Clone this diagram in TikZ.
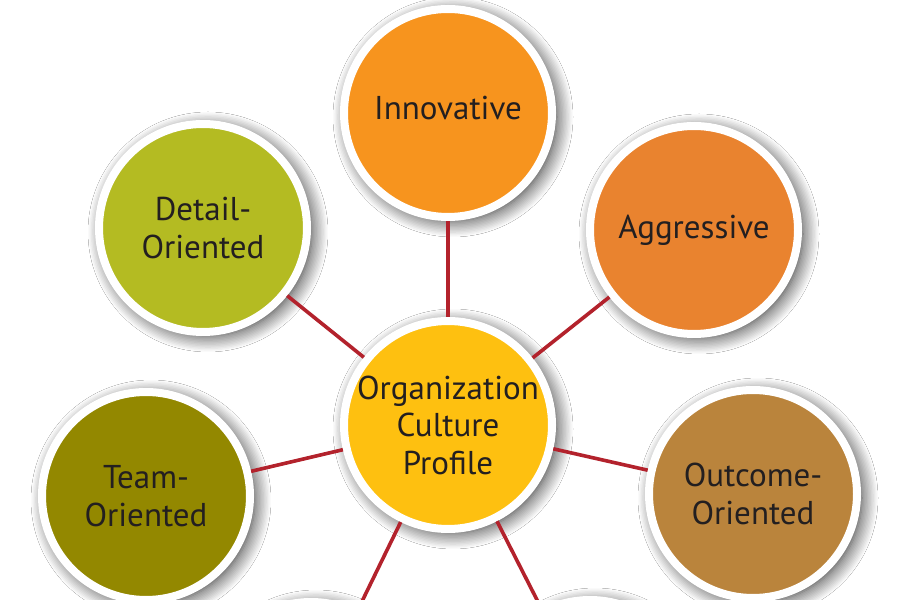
\documentclass[tikz,border=0pt]{standalone}
\usepackage{fontspec}
\setmainfont{PT Sans}
\usepackage{tikz}
\usetikzlibrary{positioning,shadows.blur}
\definecolor{hub1}{HTML}{FEC010}
\definecolor{orange1}{HTML}{F7941E}
\definecolor{orange2}{HTML}{E9832F}
\definecolor{lime1}{HTML}{B4BB22}
\definecolor{olive1}{HTML}{938800}
\definecolor{brown1}{HTML}{BA843C}
\definecolor{spoke1}{HTML}{B3222C}
\definecolor{ink1}{HTML}{231F20}

\begin{document}
\begin{tikzpicture}[x=1pt, y=1pt,
    trait/.style={circle, draw=white, line width=8pt,
                  minimum size=208pt, inner sep=0pt,
                  font=\fontsize{33}{37.5}\selectfont,
                  text=ink1, align=center,
                  blur shadow={shadow blur steps=12, shadow blur radius=16pt,
                  shadow xshift=5pt, shadow yshift=-4pt, shadow opacity=85}},
    spoke/.style={draw=spoke1, line width=3.6pt},
]
\fill[white] (0,0) rectangle (900,600);
\useasboundingbox (0,0) rectangle (900,600);

\node[trait, fill=orange1] (inno) at (448,487) {\raisebox{10pt}{Innovative}};
\node[trait, fill=orange2] (aggr) at (694,370) {Aggressive};
\node[trait, fill=lime1] (detail) at (203,372) {Detail-\\Oriented};
\node[trait, fill=olive1] (team) at (146,104) {Team-\\Oriented};
\node[trait, fill=brown1] (outcome) at (753,106) {Outcome-\\Oriented};
\node[trait, fill=orange2] (botl) at (311,-106) {};
\node[trait, fill=orange1] (botr) at (590,-104) {};
\node[trait, fill=hub1] (hub) at (448,175)
    {Organization\\Culture\\Profile};

\foreach \t in {inno,aggr,detail,team,outcome,botl,botr}
    \draw[spoke] (hub) -- (\t);
\end{tikzpicture}
\end{document}
